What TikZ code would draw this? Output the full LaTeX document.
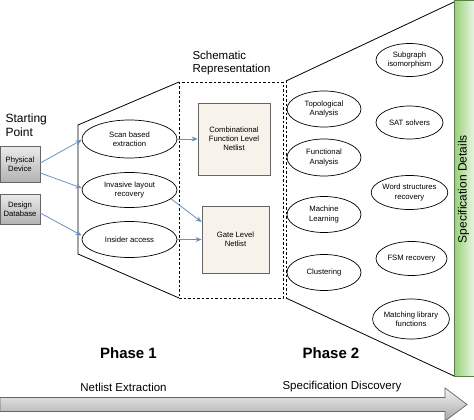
\documentclass[tikz,border=0pt]{standalone}
\usepackage{fontspec}
\setmainfont{Liberation Sans}
\usetikzlibrary{arrows.meta,calc,shapes.geometric}
\definecolor{arrowblue}{HTML}{6C8EBF}
\definecolor{beige}{HTML}{F7F3EA}
\definecolor{boxgray}{HTML}{666666}
\definecolor{barstroke}{HTML}{82B366}
\definecolor{bargreen}{HTML}{97D077}
\definecolor{barlight}{HTML}{E9F5E2}
\begin{document}
\begin{tikzpicture}[x=1pt,y=-1pt,
  lbl/.style={font=\fontsize{7.7}{9.2}\selectfont,align=center},
  oval/.style={lbl,draw=black,line width=0.7pt,ellipse,fill=white,inner sep=0pt},
  graybox/.style={lbl,draw=boxgray,line width=0.7pt,top color=white!92!black,bottom color=white!70!black,inner sep=0pt},
  netbox/.style={lbl,draw=boxgray,line width=0.8pt,fill=beige,inner sep=0pt},
  flow/.style={draw=arrowblue,line width=0.8pt,-{Stealth[length=6pt,width=5pt]}},
  edge1/.style={draw=black,line width=0.8pt},
  dashedge/.style={draw=black,line width=0.7pt,dash pattern=on 2.5pt off 2pt},
  bigtxt/.style={font=\fontsize{11.5}{13.5}\selectfont,align=left},
  phase/.style={font=\fontsize{15}{17}\selectfont\bfseries}
]
\useasboundingbox (0,0) rectangle (474,420);

% phase 1 trapezoid
\draw[edge1] (179,82) -- (78,125) -- (78,254) -- (179,298);
% schematic dashed box
\draw[dashedge] (179,82) rectangle (283,298);
% phase 2 trapezoid
\draw[dashedge] (286,81) -- (286,298);
\draw[edge1] (286,81) -- (454,2);
\draw[edge1] (286,298) -- (454,376);

% green bar
\shade[left color=bargreen,right color=barlight] (454,0) rectangle (474,376);
\draw[draw=barstroke!70!black,line width=0.8pt] (474,0) -- (454,0) -- (454,376) -- (474,376);
\node[rotate=90,font=\fontsize{12}{14}\selectfont] (specdet) at (463.5,189) {Specification Details};

% texts
\node[bigtxt,anchor=west,font=\fontsize{12}{14.5}\selectfont] (start) at (2,125) {Starting\\Point};
\node[bigtxt,anchor=west] (schem) at (189,63) {Schematic\\Representation};
\node[phase] (ph1) at (128.5,353) {Phase 1};
\node[phase] (ph2) at (331,353) {Phase 2};
\node[bigtxt] (ne) at (123.5,387) {Netlist Extraction};
\node[bigtxt] (sd) at (342,387) {Specification Discovery};

% starting boxes
\node[graybox,minimum width=40pt,minimum height=36pt] (pd) at (20,164) {Physical\\Device};
\node[graybox,minimum width=40pt,minimum height=30pt] (db) at (20,209) {Design\\Database};

% phase 1 ovals
\node[oval,minimum width=95pt,minimum height=38pt] (scan) at (129.5,139) {Scan based\\extraction};
\node[oval,minimum width=95pt,minimum height=35pt] (inv) at (129.5,190) {Invasive layout\\recovery};
\node[oval,minimum width=95pt,minimum height=36pt] (ins) at (129.5,239.5) {Insider access};

% netlist boxes
\node[netbox,minimum width=72pt,minimum height=72pt] (comb) at (234,139) {Combinational\\Function Level\\Netlist};
\node[netbox,minimum width=67pt,minimum height=67pt] (gate) at (235.5,239.5) {Gate Level\\Netlist};

% phase 2 ovals left
\node[oval,minimum width=74pt,minimum height=36pt] (topo) at (324,109) {Topological\\Analysis};
\node[oval,minimum width=74pt,minimum height=37pt] (func) at (324,157.5) {Functional\\Analysis};
\node[oval,minimum width=74pt,minimum height=36pt] (ml) at (324,214.5) {Machine\\Learning};
\node[oval,minimum width=74pt,minimum height=36pt] (clu) at (324,272.5) {Clustering};

% phase 2 ovals right
\node[oval,minimum width=67pt,minimum height=33pt] (sub) at (409.5,60) {Subgraph\\isomorphism};
\node[oval,minimum width=67pt,minimum height=33pt] (sat) at (409.5,122.5) {SAT solvers};
\node[oval,minimum width=70pt,minimum height=34pt] (word) at (409.5,192.5) {Word structures\\recovery};
\node[oval,minimum width=71pt,minimum height=34pt] (fsm) at (411.5,258.5) {FSM recovery};
\node[oval,minimum width=72pt,minimum height=40pt] (match) at (411,319) {Matching library\\functions};

% connectors
\draw[flow] ([yshift=1pt]pd.east) -- ([yshift=-1pt]scan.west);
\draw[flow] ([yshift=-9pt]pd.east) -- ([yshift=2pt]inv.west);
\draw[flow] ([yshift=-4pt]db.east) -- ([yshift=4pt]ins.west);
\draw[flow] (scan.east) -- (comb.west);
\draw[flow] (inv.-12) -- ([yshift=17.5pt]gate.west);
\draw[flow] (ins.east) -- (gate.west);

% big arrow
\coordinate (tip) at (467,404.5);
\shade[top color=white!95!black,bottom color=white!66!black,draw=boxgray,line width=0.7pt]
  (0,397.5) -- (445,397.5) -- (445,388) -- (tip) -- (445,421) -- (445,411.5) -- (0,411.5) -- cycle;
\end{tikzpicture}
\end{document}
